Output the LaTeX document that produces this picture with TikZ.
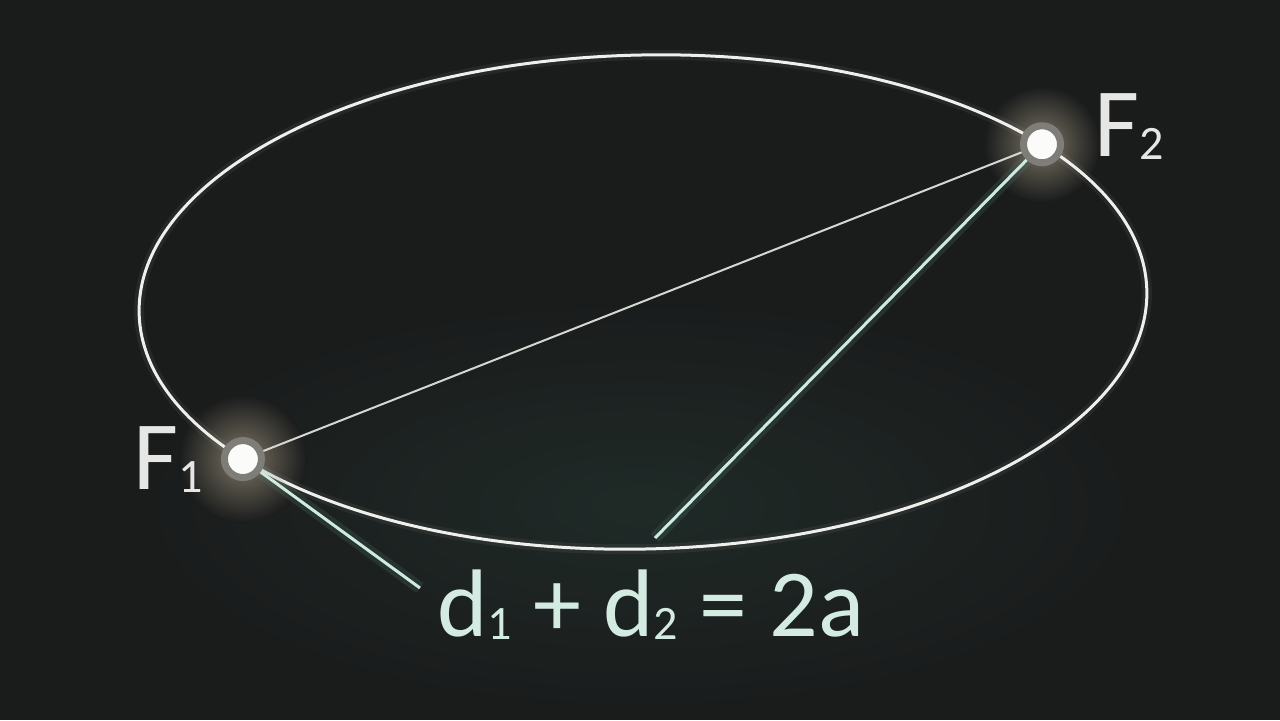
\documentclass[tikz,border=0pt]{standalone}
\usepackage{fontspec}
\setmainfont{Carlito}
\usetikzlibrary{positioning}

\definecolor{bgdark}{HTML}{1A1C1C}
\definecolor{bgteal}{HTML}{1F2A27}
\definecolor{curvewhite}{HTML}{EFEFEC}
\definecolor{chordgray}{HTML}{D6D7D4}
\definecolor{distmint}{HTML}{CFEBE0}
\definecolor{eqmint}{HTML}{D4EBE2}
\definecolor{labelwhite}{HTML}{E6E6E4}
\definecolor{dotwhite}{HTML}{FBFBF9}
\definecolor{dotring}{HTML}{7E7D78}
\definecolor{glowwarm}{HTML}{7E7666}
\definecolor{glowteal}{HTML}{5E8C80}

\newcommand{\subidx}[1]{\raisebox{-1.5pt}{\fontsize{24}{24}\selectfont #1}}

\begin{document}
\begin{tikzpicture}[x=0.5pt, y=0.5pt,
  focus/.style={circle, fill=dotwhite, draw=dotring, line width=3.5pt,
    minimum size=18.5pt, inner sep=0pt},
  curve/.style={draw=curvewhite, line width=1.5pt,
    preaction={draw=curvewhite, line width=5pt, opacity=0.06}},
  chord/.style={draw=chordgray, line width=1pt},
  distline/.style={draw=distmint, line width=1.5pt,
    preaction={draw=glowteal, line width=6pt, opacity=0.18}},
  flabel/.style={text=labelwhite, font=\fontsize{49}{49}\selectfont, inner sep=0pt},
  eqlabel/.style={text=eqmint, font=\fontsize{48}{48}\selectfont, inner sep=0pt}]

\fill[bgdark] (0,0) rectangle (1280,720);
\useasboundingbox (0,0) rectangle (1280,720);
\shade[inner color=bgteal, outer color=bgdark] (640,215) ellipse [x radius=500, y radius=205];

\coordinate (c) at (643,418);
\begin{scope}[shift={(c)}, rotate=1.3]
\coordinate (pF1) at (216.8:504 and 247);
\coordinate (pF2) at (37:504 and 247);
\end{scope}
\coordinate (d1end) at (420,132);
\coordinate (d2end) at (655,182);

\shade[inner color=glowwarm, outer color=bgdark] (pF1) circle (64);
\shade[inner color=glowwarm, outer color=bgdark] (pF2) circle (58);

\draw[curve, rotate around={1.3:(c)}] (c) ellipse [x radius=504, y radius=247];

\node[focus] (F1) at (pF1) {};
\node[focus] (F2) at (pF2) {};

\node[flabel, left=9pt of F1] (F1lab) {F\subidx{1}};
\node[flabel, right=15pt of F2, yshift=9pt] (F2lab) {F\subidx{2}};
\node[eqlabel, below right=-9.5pt and 8.5pt of d1end] (eq)
    {d\subidx{1} + d\subidx{2} = 2a};

\draw[chord] (F1) -- (F2);
\draw[distline]
    (F1) -- (d1end)
    (F2) -- (d2end)
    ;
\end{tikzpicture}
\end{document}
